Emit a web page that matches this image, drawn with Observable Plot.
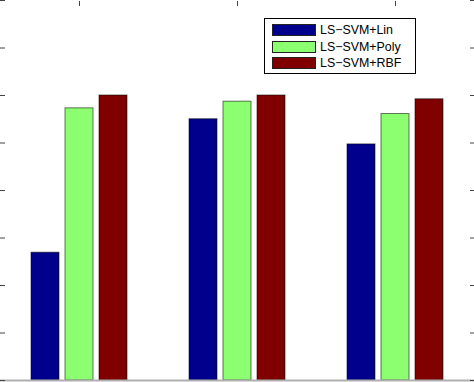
<!DOCTYPE html>
<html>
<head>
<meta charset="utf-8">
<script src="https://cdn.jsdelivr.net/npm/d3@7"></script>
<script src="https://cdn.jsdelivr.net/npm/@observablehq/plot@0.6"></script>
<style>
  html, body { margin: 0; padding: 0; background: #fff; }
  #wrap { position: relative; width: 474px; height: 382px; overflow: hidden; }
  #legend {
    position: absolute; left: 264px; top: 18px; width: 150px; height: 54px;
    border: 1px solid #000; background: #fff;
    font-family: "Liberation Sans", Arial, Helvetica, sans-serif; font-size: 12.4px; color: #000;
  }
  .row { position: absolute; left: 7px; height: 12px; display: flex; align-items: center; }
  .sw { width: 44px; height: 12px; border: 1px solid #222; box-sizing: border-box; margin-right: 4px; }
</style>
</head>
<body>
<div id="wrap"><div id="legend"></div></div>
<script>
const groups = [1, 2, 3];
const seriesNames = ["LS−SVM+Lin", "LS−SVM+Poly", "LS−SVM+RBF"];
const seriesColors = ["#00008c", "#8cff70", "#800000"];
const linValues = [26.9, 55.0, 49.7];
const polyValues = [57.3, 58.7, 56.1];
const rbfValues = [60.0, 60.0, 59.2];
const yTicks = [0, 10, 20, 30, 40, 50, 60, 70, 80];

const seriesValues = [linValues, polyValues, rbfValues];
const data = groups.flatMap((g, i) =>
  seriesNames.map((s, j) => ({group: g, series: s, value: seriesValues[j][i]}))
);

const chart = Plot.plot({
  width: 474,
  height: 382,
  marginTop: 0,
  marginBottom: 2,
  marginLeft: 0,
  marginRight: 0,
  fx: {domain: groups, paddingInner: 0, paddingOuter: 0, axis: null, label: null},
  x: {domain: seriesNames, paddingInner: 0.1714, paddingOuter: 0.843, axis: null, label: null},
  y: {domain: [0, 80], axis: null, label: null},
  color: {domain: seriesNames, range: seriesColors},
  style: {background: "#fff", overflow: "visible"},
  marks: [
    Plot.barY(data, {fx: "group", x: "series", y: "value", fill: "series", stroke: "#000", strokeOpacity: 0.55, strokeWidth: 1}),
    Plot.ruleY([0], {stroke: "#b0b0b0", strokeWidth: 2}),
    Plot.axisY({anchor: "left", ticks: yTicks, tickSize: 5, dx: 5, tickFormat: () => "", label: null, stroke: "#444"}),
    Plot.axisY({anchor: "right", ticks: yTicks, tickSize: 5, dx: -5, tickFormat: () => "", label: null, stroke: "#444"}),
    Plot.axisFx({anchor: "top", tickSize: 5, dy: 5, tickFormat: () => "", label: null, stroke: "#444"})
  ]
});
document.getElementById("wrap").prepend(chart);

const legend = document.getElementById("legend");
const rowTops = [5, 22, 38];
seriesNames.forEach((name, i) => {
  const row = document.createElement("div");
  row.className = "row";
  row.style.top = rowTops[i] + "px";
  const sw = document.createElement("div");
  sw.className = "sw";
  sw.style.background = seriesColors[i];
  const t = document.createElement("span");
  t.textContent = name;
  row.appendChild(sw);
  row.appendChild(t);
  legend.appendChild(row);
});
</script>
</body>
</html>
